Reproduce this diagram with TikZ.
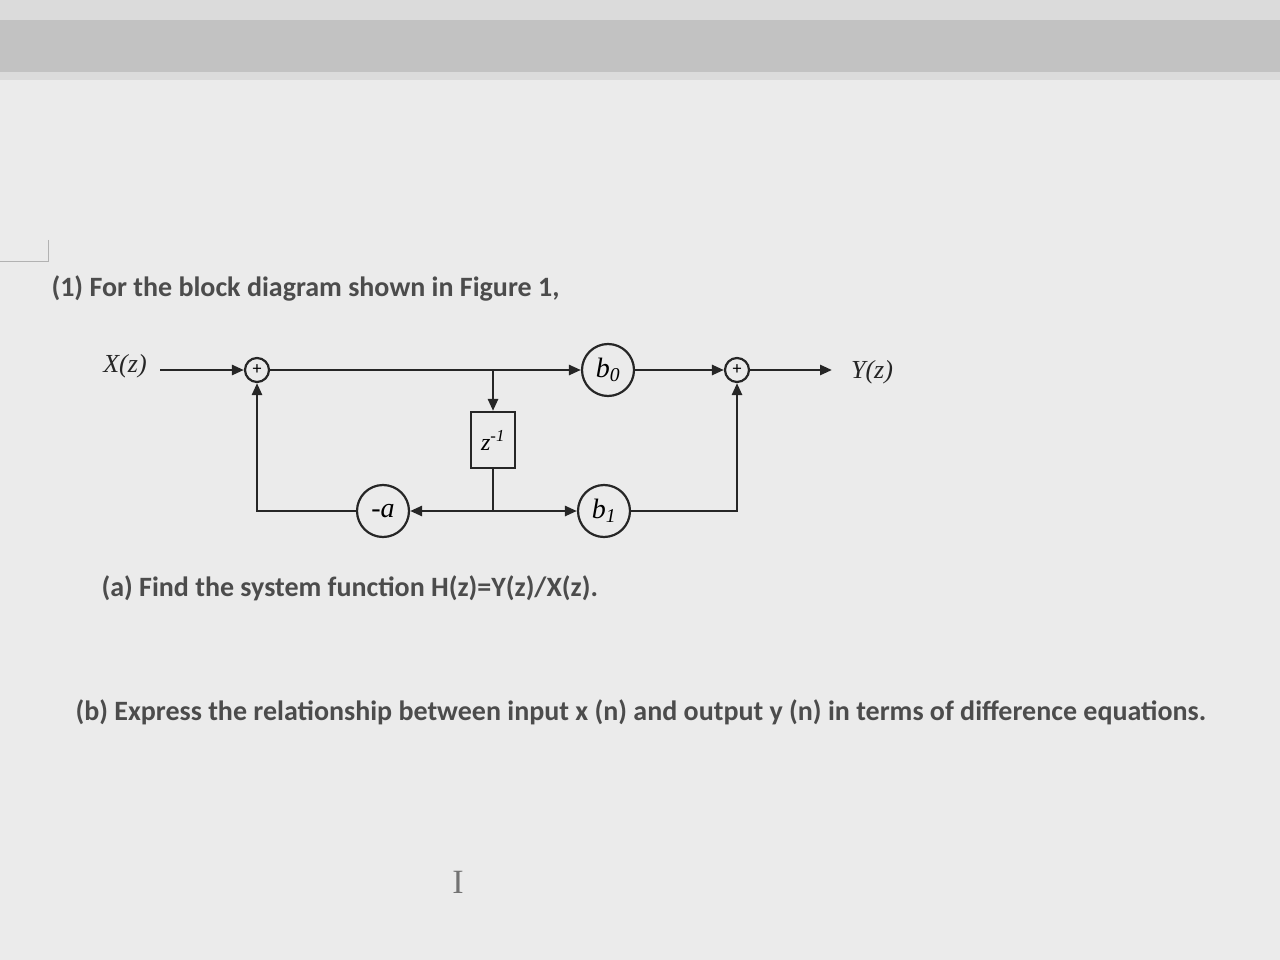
\documentclass[tikz,border=0pt]{standalone}
\usepackage{fontspec}
\setmainfont{Carlito}
\newfontfamily\serifm{Liberation Serif}
\usetikzlibrary{arrows.meta}
\begin{document}
\begin{tikzpicture}[x=1pt,y=-1pt,
  sig/.style={draw=black!85,line width=2.6pt},
  arr/.style={sig,-{Triangle[length=12pt,width=10pt]}},
  adder/.style={circle,draw=black!85,line width=2.2pt,minimum size=24pt,inner sep=0pt},
  gain/.style={circle,draw=black!85,line width=2.2pt,minimum size=52pt,inner sep=0pt,font=\serifm\itshape\fontsize{28}{28}\selectfont},
  delay/.style={draw=black!85,line width=2.2pt,minimum width=44pt,minimum height=56pt,font=\serifm\itshape\fontsize{24}{24}\selectfont},
  lab/.style={font=\serifm\itshape\fontsize{26}{26}\selectfont,text=black!85},
  body/.style={anchor=west,font=\bfseries\fontsize{27}{27}\selectfont,text=black!70}]
\useasboundingbox (0,0) rectangle (1280,960);
\fill[black!14] (0,0) rectangle (1280,960);
\fill[black!24] (0,20) rectangle (1280,72);
\fill[black!8] (0,80) rectangle (1280,960);
\draw[black!30,line width=1pt] (0,262) -- (48,262) (48,240) -- (48,262);
\node[body,font=\bfseries\fontsize{28}{28}\selectfont] (q1) at (48,288) {(1) For the block diagram shown in Figure 1,};
\node[lab] (xz) at (125,366) {X(z)};
\coordinate (xs) at (160,370);
\node[adder] (s1) at (257,370) {\fontsize{18}{18}\selectfont +};
\node[gain] (b0) at (608,370) {b\textsubscript{0}};
\node[adder] (s2) at (737,370) {\fontsize{18}{18}\selectfont +};
\node[lab] (yz) at (872,372) {Y(z)};
\coordinate (yend) at (832,370);
\node[delay] (d) at (493,440) {z\textsuperscript{-1}};
\node[gain] (na) at (383,511) {-a};
\node[gain] (b1) at (604,511) {b\textsubscript{1}};
\coordinate (j1) at (493,370);
\coordinate (j2) at (493,511);
\draw[arr] (xs) -- (s1.west);
\draw[arr] (s1.east) -- (j1) -- (b0.west);
\draw[arr] (j1) -- (d.north);
\draw[sig] (d.south) -- (j2);
\draw[arr] (j2) -- (na.east);
\draw[arr] (na.west) -| (s1.south);
\draw[arr] (j2) -- (b1.west);
\draw[arr] (b0.east) -- (s2.west);
\draw[arr] (b1.east) -| (s2.south);
\draw[arr] (s2.east) -- (yend);
\node[body,font=\bfseries\fontsize{28}{28}\selectfont] (qa) at (98,588) {(a) Find the system function H(z)=Y(z)/X(z).};
\node[body,font=\bfseries\fontsize{28}{28}\selectfont] (qb) at (72,712) {(b) Express the relationship between input x (n) and output y (n) in terms of difference equations.};
\node[font=\serifm\fontsize{34}{34}\selectfont,text=black!55] (cur) at (458,882) {I};
\end{tikzpicture}
\end{document}
